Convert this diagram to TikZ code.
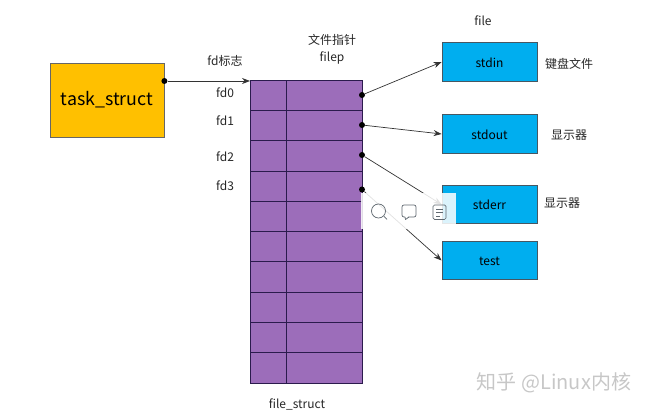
\documentclass[tikz,border=0pt]{standalone}
\usepackage{fontspec}
\setmainfont{Noto Sans CJK SC}
\usetikzlibrary{arrows.meta}
\definecolor{taskgold}{HTML}{FFC000}
\definecolor{fileblue}{HTML}{00AEEF}
\definecolor{cellpurple}{HTML}{9C6DBA}
\definecolor{celledge}{HTML}{2B1B4D}
\definecolor{iconedge}{HTML}{5F6870}
\begin{document}
\begin{tikzpicture}[
        x=1pt, y=-1pt,
        taskbox/.style={rectangle, draw=black!60, fill=taskgold, line width=0.8pt, minimum width=114pt, minimum height=74pt, inner sep=0pt, font=\fontsize{17.8}{20}\selectfont},
        filebox/.style={rectangle, draw=cyan!30!black, fill=fileblue, line width=0.8pt, minimum width=95pt, minimum height=38.5pt, inner sep=0pt, text height=14pt, text depth=3pt, font=\fontsize{12}{14}\selectfont},
        cell/.style={rectangle, draw=celledge, fill=cellpurple, line width=0.8pt, minimum height=30.3pt, inner sep=0pt},
        lbl/.style={inner sep=0pt, text=black!85, font=\fontsize{12}{14}\selectfont},
        dot/.style={circle, fill=black, minimum size=6pt, inner sep=0pt},
        arrow/.style={-{Stealth[length=8pt,width=6pt]}, line width=0.7pt, draw=black!80},
        icon/.style={draw=iconedge, line width=0.7pt, line join=round}
    ]
    \useasboundingbox (0,0) rectangle (646,411);

    \node[taskbox] (task) at (107,100) {\smash{\raisebox{-6pt}{task\_struct}}};

    % table of fds
    \foreach \row in {0,...,9} {
        \node[cell, minimum width=36pt] (left\row) at (268,95.2+30.3*\row) {};
        \node[cell, minimum width=76pt] (right\row) at (324,95.2+30.3*\row) {};
    }

    \node[filebox] (stdin) at (489.5,62) {stdin};
    \node[filebox] (stdout) at (489.5,134) {stdout};
    \node[filebox] (stderr) at (489.5,204.5) {stderr};
    \node[filebox] (test) at (489.5,260.5) {test};

    \node[dot] (taskdot) at (task.east |- 0,81) {};
    \node[dot] (fdin) at (362,95) {};
    \node[dot] (fdout) at (362,125) {};
    \node[dot] (fderr) at (362,155) {};
    \node[dot] (fdtest) at (362,189.5) {};
    \coordinate (tabletop) at (250,81);

    \draw[arrow] (taskdot) -- (tabletop);
    \draw[arrow] (fdin) -- (stdin.west);
    \draw[arrow] (fdout) -- (stdout.west);
    \draw[arrow] (fderr) -- (stderr.west);
    \draw[arrow] (fdtest) -- (test.west);

    \node[lbl] (fdflag) at (225,61) {fd标志};
    \node[lbl] (fd0) at (225,93) {fd0};
    \node[lbl] (fd1) at (225,121) {fd1};
    \node[lbl] (fd2) at (225,157) {fd2};
    \node[lbl] (fd3) at (225,186) {fd3};
    \node[lbl] (ptr) at (332,40) {文件指针};
    \node[lbl] (filep) at (332,58) {filep};
    \node[lbl] (file) at (483,21) {file};
    \node[lbl, anchor=west] (kbd) at (545,64) {键盘文件};
    \node[lbl, anchor=west] (disp1) at (551,135) {显示器};
    \node[lbl, anchor=west] (disp2) at (544,203) {显示器};
    \node[lbl] (fstruct) at (297,404) {file\_struct};

    % toolbar on top of the picture
    \fill[white, fill opacity=0.86] (361,193) rectangle (456,229);
    \draw[icon] (378.5,211) circle (7pt);
    \draw[icon] (384,216.5) -- (387,219.5);
    \draw[icon, rounded corners=2pt] (402,205) rectangle (416,217);
    \fill[white] (405,216) -- (409,216) -- (405.5,219.5) -- cycle;
    \draw[icon] (405,217) -- (405.5,219.5) -- (409,217);
    \draw[icon, rounded corners=1.5pt] (433,205) rectangle (446,219.5);
    \draw[icon] (436,209) -- (443,209) (436,212.5) -- (443,212.5) (436,216) -- (440,216);

    \node[inner sep=0pt, text=black!22, font=\fontsize{20}{22}\selectfont] (mark) at (554,383) {知乎 @Linux内核};
\end{tikzpicture}
\end{document}
